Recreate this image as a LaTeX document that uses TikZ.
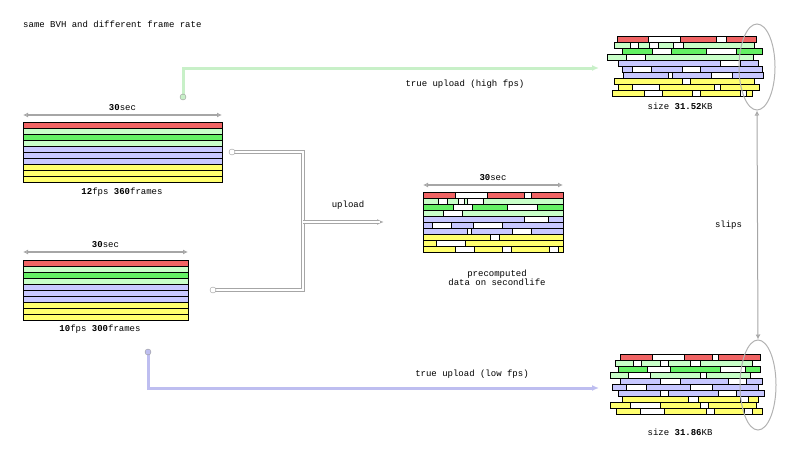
\documentclass[tikz,border=0pt]{standalone}
\usepackage{fontspec}
\setmainfont{Liberation Mono}
\usetikzlibrary{arrows.meta,shapes.geometric}
\definecolor{fred}{RGB}{240,100,100}
\definecolor{fgreenl}{RGB}{200,255,200}
\definecolor{fgreen}{RGB}{100,240,100}
\definecolor{fblue}{RGB}{200,200,255}
\definecolor{fyellow}{RGB}{255,255,110}
\definecolor{hiline}{RGB}{200,240,200}
\definecolor{loline}{RGB}{190,190,240}
\tikzset{
  span/.style={{Latex[open,length=5pt,width=5pt]}-{Latex[open,length=5pt,width=5pt]}, draw=gray!70, line width=1.4pt},
  lbl/.style={font=\small, inner sep=1pt},
  dot/.style={circle, fill=#1, draw=gray!80, inner sep=0pt, minimum size=6pt},
}
% one row of frames: y, x0, x1, colour, white gaps
\newcommand\framerow[5]{%
  \filldraw[#4, draw=black, line width=0.5pt] (#2,#1) rectangle (#3,#1+6);
  \foreach \a/\b in {#5} {\filldraw[white, draw=black, line width=0.5pt] (\a,#1) rectangle (\b,#1+6);}
}
\newcommand\plainstack[3]{% x0, x1, ytop
  \foreach \c [count=\i from 0] in {fred,fgreenl,fgreen,fgreenl,fblue,fblue,fblue,fyellow,fyellow,fyellow}
    \filldraw[\c, draw=black, line width=0.5pt] (#1,#3+6*\i) rectangle (#2,#3+6*\i+6);
}
\begin{document}
\begin{tikzpicture}[x=1pt,y=-1pt]
  \useasboundingbox (0,0) rectangle (800,450);
  \node[lbl, anchor=west] (title) at (22,24) {same BVH and different frame rate};

  % stacks on the left
  \plainstack{23}{222}{122}
  \plainstack{23}{188}{260}
  \draw[span] (23,115) -- (222,115) node[midway, above=3pt, lbl] (t1) {\textbf{30}sec};
  \draw[span] (23,252) -- (188,252) node[midway, above=3pt, lbl] (t2) {\textbf{30}sec};
  \node[lbl] (hi) at (122,192) {\textbf{12}fps \textbf{360}frames};
  \node[lbl] (lo) at (100,329) {\textbf{10}fps \textbf{300}frames};

  % precomputed data
  \framerow{192}{423}{563}{fred}{455/487,524/531}
  \framerow{198}{423}{563}{fgreenl}{438/447,458/464,467/483}
  \framerow{204}{423}{563}{fgreen}{453/472,507/537}
  \framerow{210}{423}{563}{fgreenl}{443/462}
  \framerow{216}{423}{563}{fblue}{524/548}
  \framerow{222}{423}{563}{fblue}{432/451,473/502}
  \framerow{228}{423}{563}{fblue}{467/471,512/531}
  \framerow{234}{423}{563}{fyellow}{490/499}
  \framerow{240}{423}{563}{fyellow}{436/465}
  \framerow{246}{423}{563}{fyellow}{455/474,502/511,549/558}
  \draw[span] (423,185) -- (563,185) node[midway, above=3pt, lbl] (t3) {\textbf{30}sec};
  \node[lbl, align=center] (pre) at (497,278) {precomputed\\[-2pt]data on secondlife};

  % high fps result
  \framerow{36}{617}{756}{fred}{648/680,716/726}
  \framerow{42}{614}{754}{fgreenl}{630/638,649/658,673/683}
  \framerow{48}{622}{762}{fgreen}{652/671,706/736}
  \framerow{54}{607}{753}{fgreenl}{626/645}
  \framerow{60}{618}{758}{fblue}{720/740}
  \framerow{66}{622}{762}{fblue}{632/651,682/700}
  \framerow{72}{623}{763}{fblue}{668/672,711/732}
  \framerow{78}{614}{754}{fyellow}{682/690}
  \framerow{84}{618}{759}{fyellow}{632/659,714/720}
  \framerow{90}{612}{752}{fyellow}{644/662,692/700,740/746}
  \node[lbl] (shi) at (680,106) {size \textbf{31.52}KB};
  \node[ellipse, draw=gray!60, line width=1pt, minimum width=36pt, minimum height=86pt] (ehi) at (757,67) {};

  % low fps result
  \framerow{354}{620}{760}{fred}{652/684,712/718}
  \framerow{360}{615}{752}{fgreenl}{633/641,660/668,690/700}
  \framerow{366}{618}{760}{fgreen}{647/670,720/745}
  \framerow{372}{610}{750}{fgreenl}{628/650,700/706}
  \framerow{378}{620}{762}{fblue}{660/680,728/746}
  \framerow{384}{612}{758}{fblue}{626/646,690/712}
  \framerow{390}{618}{764}{fblue}{660/668,718/736}
  \framerow{396}{622}{758}{fyellow}{688/698,740/748}
  \framerow{402}{610}{756}{fyellow}{630/660,700/708}
  \framerow{408}{616}{762}{fyellow}{640/664,706/714,744/752}
  \node[lbl] (slo) at (680,432) {size \textbf{31.86}KB};
  \node[ellipse, draw=gray!60, line width=1pt, minimum width=36pt, minimum height=90pt] (elo) at (758,385) {};

  % slips
  \draw[span, line width=1pt] (ehi.south) -- (elo.north) node[midway, left=14pt, lbl] (sl) {slips};

  % upload
  \coordinate (ua) at (232,152);
  \coordinate (ub) at (213,290);
  \coordinate (uj) at (303,222);
  \coordinate (ue) at (384,222);
  \foreach \w/\c in {3.4pt/gray!70, 2pt/white}
    \draw[line width=\w, \c] (ua) -- (303,152) -- (303,290) -- (ub);
  \draw[line width=3.4pt, gray!70, -{Latex[length=7pt,width=6pt]}] (uj) -- (ue);
  \draw[line width=2pt, white, shorten >=4pt] (uj) -- (ue);
  \node[dot=white] at (ua) {};
  \node[dot=white] at (ub) {};
  \node[lbl] (up) at (348,205) {upload};

  % true uploads
  \coordinate (ga) at (183,97);
  \coordinate (ge) at (599,68);
  \coordinate (ba) at (148,352);
  \coordinate (be) at (599,388);
  \draw[line width=3pt, hiline, -{Latex[length=7pt,width=6pt]}] (ga) -- (183,68) -- (ge);
  \draw[line width=3pt, loline, -{Latex[length=7pt,width=6pt]}] (ba) -- (148,388) -- (be);
  \node[dot=hiline] at (ga) {};
  \node[dot=loline] at (ba) {};
  \node[lbl] (thi) at (465,84) {true upload (high fps)};
  \node[lbl] (tlo) at (472,374) {true upload (low fps)};
\end{tikzpicture}
\end{document}
